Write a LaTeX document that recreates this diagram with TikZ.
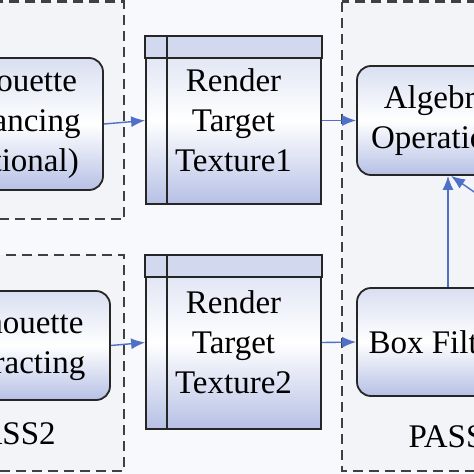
\documentclass[tikz,border=0pt]{standalone}
\usepackage{fontspec}
\setmainfont{Liberation Serif}
\usetikzlibrary{arrows.meta}
\definecolor{bg}{HTML}{F8F9FC}
\definecolor{passfill}{HTML}{F3F4F8}
\definecolor{arr}{HTML}{4F70C6}
\definecolor{topc}{HTML}{D9DFF1}
\definecolor{botc}{HTML}{B6C0E5}
\definecolor{hdr}{HTML}{D2D9EF}
\tikzset{
 passbox/.style={draw=black!75, line width=2.6pt, dash pattern=on 10pt off 6pt, fill=passfill},
 procbox/.style={draw=black!85, line width=1.8pt, rounded corners=14pt, top color=topc, bottom color=botc, middle color=white, align=center, inner sep=0pt},
 rtbox/.style={draw=black!85, line width=1.8pt, top color=topc, bottom color=botc, middle color=white, align=center, inner sep=0pt, minimum width=175pt, minimum height=167pt},
 rtline/.style={draw=black!85, line width=1.8pt},
 flow/.style={draw=arr, line width=1.4pt, -{Latex[length=14pt,width=11pt]}},
 txt/.style={font=\fontsize{33}{40}\selectfont}
}
\begin{document}
\begin{tikzpicture}[x=1pt,y=-1pt]
\useasboundingbox (0,0) rectangle (474,474);
\clip (0,0) rectangle (474,474);
\fill[bg] (0,0) rectangle (474,474);
% pass regions
\draw[passbox] (-200,1.5) rectangle (124,219);
\draw[passbox] (-200,255) rectangle (124,471);
\draw[passbox] (342,1.5) rectangle (700,471);
% process boxes
\node[procbox, txt, minimum width=186pt, minimum height=132pt] (enh) at (10,124) {Silhouette\\Enhancing\\(Optional)};
\node[procbox, txt, minimum width=187pt, minimum height=109pt] (ext) at (16.5,345.5) {Silhouette\\Extracting};
\node[procbox, txt, minimum width=160pt, minimum height=109pt] (alg) at (437,120.5) {Algebra\\Operation};
\node[procbox, txt, minimum width=158pt, minimum height=108pt] (box) at (436,342) {Box Filter};
% render targets
\node[rtbox, txt] (rt1) at (233.5,120.5) {Render\\Target\\Texture1};
\node[rtbox, txt, minimum height=173pt] (rt2) at (233.5,342.5) {Render\\Target\\Texture2};
\foreach \r in {rt1,rt2}{
  \filldraw[fill=hdr, rtline] (\r.north west) rectangle ([yshift=-22pt]\r.north east);
  \draw[rtline] ([xshift=22pt]\r.north west) -- ([xshift=22pt]\r.south west);
}
% labels
\node[txt] (p2) at (9.5,434) {PASS2};
\node[txt, anchor=west] (p3) at (405,437) {PASS3};
% connectors
\draw[flow] (enh.east) -- (rt1.west);
\draw[flow] (rt1.east) -- (alg.west);
\draw[flow] (ext.east) -- (rt2.west);
\draw[flow] (rt2.east) -- (box.west);
\draw[flow] ([xshift=12pt]box.north) -- ([xshift=11pt]alg.south);
\coordinate (offr) at (500,210);
\draw[flow] (offr) -- ([xshift=14pt]alg.south);
\end{tikzpicture}
\end{document}
